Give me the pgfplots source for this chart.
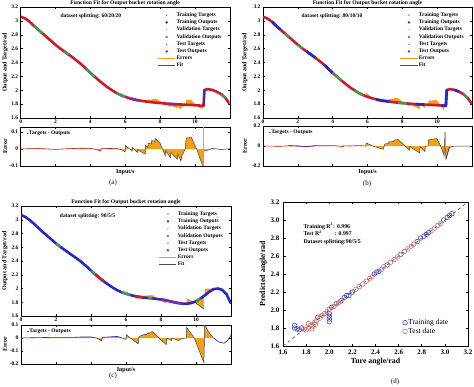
\documentclass[border=0pt]{standalone}
\usepackage{fontspec}
\setmainfont{Liberation Serif}
\usepackage{pgfplots}
\pgfplotsset{compat=1.18}
\usepackage{pgfplotstable}

\definecolor{eorange}{RGB}{245,160,20}
\definecolor{cred}{RGB}{205,25,40}
\definecolor{cblue}{RGB}{35,40,200}
\definecolor{cgreen}{RGB}{70,150,90}
\definecolor{cpurp}{RGB}{130,40,170}
\definecolor{dblue}{RGB}{70,70,185}
\definecolor{dred}{RGB}{205,110,110}
\newcommand{\fs}[1]{\fontsize{#1}{#1}\selectfont}

% fit curve, panels (a) and (b)
\pgfplotstableread{
x y
0 3.06
0.25 3.035
0.5 2.99
0.75 2.93
1.0 2.875
1.25 2.82
1.5 2.765
1.75 2.71
2.0 2.655
2.25 2.605
2.5 2.56
2.75 2.515
3.0 2.47
3.25 2.42
3.5 2.37
3.75 2.31
4.0 2.25
4.25 2.195
4.5 2.14
4.75 2.09
5.0 2.04
5.25 2.0
5.5 1.96
5.75 1.93
6.0 1.905
6.25 1.885
6.5 1.868
6.75 1.855
7.0 1.845
7.25 1.836
7.5 1.828
7.75 1.821
8.0 1.815
8.25 1.81
8.5 1.805
8.75 1.80
9.0 1.797
9.25 1.794
9.5 1.791
9.75 1.788
10.0 1.784
10.25 1.78
10.5 1.775
10.55 2.005
10.75 2.015
11.0 2.005
11.25 1.98
11.5 1.945
11.75 1.89
12.0 1.80
}\fitab

% fit curve, panel (c)
\pgfplotstableread{
x y
0 3.07
0.25 3.04
0.5 2.995
0.75 2.94
1.0 2.88
1.25 2.82
1.5 2.765
1.75 2.71
2.0 2.655
2.25 2.605
2.5 2.56
2.75 2.515
3.0 2.47
3.25 2.425
3.5 2.375
3.75 2.32
4.0 2.26
4.25 2.205
4.5 2.15
4.75 2.10
5.0 2.055
5.25 2.012
5.5 1.975
5.75 1.945
6.0 1.925
6.25 1.905
6.5 1.89
6.75 1.878
7.0 1.868
7.25 1.862
7.5 1.856
7.75 1.848
8.0 1.84
8.25 1.83
8.5 1.815
8.75 1.80
9.0 1.788
9.25 1.78
9.5 1.778
9.75 1.79
10.0 1.815
10.25 1.855
10.5 1.90
10.75 1.95
11.0 1.99
11.25 2.0
11.5 1.98
11.75 1.915
12.0 1.78
}\fitc

\pgfplotstableread{
x e
0 0.000
0.5 0.002
1 0.003
1.5 0.001
2 -0.002
2.5 0.001
3 0.003
3.5 0.005
4 0.004
4.3 -0.002
4.6 -0.012
4.62 0.002
5 0.003
5.5 0.004
5.9 -0.008
6.0 -0.018
6.01 0.02
6.2 0.005
6.4 -0.012
6.42 0.01
6.6 -0.01
6.7 -0.02
6.72 -0.005
7.15 -0.03
7.16 0.02
7.3 0.01
7.32 0.035
7.5 0.03
7.52 0.05
7.7 0.045
7.72 0.062
8.0 0.035
8.3 -0.04
8.32 -0.01
8.6 -0.05
8.62 -0.02
9.0 -0.06
9.02 -0.03
9.2 -0.07
9.25 -0.04
9.45 0.0
9.5 0.065
9.8 0.068
10.1 0.0
10.45 -0.1
10.5 0.13
10.53 -0.012
10.8 -0.005
11 0.004
11.5 -0.003
12 0.002
}\erra

\pgfplotstableread{
x e
0 0
1 -0.003
1.5 0.003
2 0.0
2.5 -0.006
3 0.003
3.5 0.002
4 0.004
4.5 -0.003
4.6 -0.01
4.62 0.002
5 0.0
5.5 0.004
5.9 0.0
5.92 0.03
6.3 0.0
6.9 -0.033
7.0 0.02
7.2 0.025
7.22 0.04
7.5 0.045
7.52 0.058
7.75 0.065
8.4 -0.04
8.42 -0.005
9.0 -0.07
9.02 -0.005
9.3 -0.055
9.32 0.0
9.48 0.0
9.5 0.06
9.98 0.075
10.2 0.0
10.4 -0.1
10.45 0.14
10.5 -0.13
10.7 -0.015
11 0.0
12 0.0
}\errb

\pgfplotstableread{
x e
0 0
1 0.003
2 0.005
3 0.005
3.5 0.008
4 0.008
4.3 0.0
4.6 -0.02
4.65 0.005
5 0.008
5.5 0.012
5.9 -0.005
6.0 -0.01
6.02 0.025
6.1 0.015
6.7 -0.045
6.72 0.0
6.8 0.015
7.1 0.03
7.12 0.025
7.3 0.04
7.32 0.035
7.5 0.05
8.0 -0.015
8.3 -0.05
8.32 0.0
8.6 -0.02
8.62 0.0
9.0 -0.02
9.1 -0.01
9.35 0.0
9.45 0.0
9.47 0.08
9.9 0.0
10.45 -0.19
10.5 0.1
10.7 0.05
11.0 0.0
11.3 -0.03
11.6 -0.04
11.8 -0.02
12 0.02
}\errc

\pgfplotstableread{
x y
1.70 1.80
1.70 1.83
1.72 1.79
1.74 1.78
1.76 1.80
1.90 1.92
2.00 1.87
2.00 1.90
2.00 1.93
2.00 1.96
2.02 2.03
2.06 2.07
2.10 2.10
2.13 2.14
2.15 2.16
2.17 2.16
2.20 2.20
2.39 2.40
2.41 2.42
2.43 2.43
2.50 2.50
2.62 2.62
2.76 2.76
2.79 2.80
2.82 2.82
2.84 2.84
2.86 2.86
2.99 3.00
3.02 3.03
3.04 3.05
3.06 3.07
}\dtrain

\pgfplotstableread{
x y
1.78 1.79
1.80 1.78
1.82 1.80
1.82 1.85
1.84 1.83
1.85 1.79
1.86 1.82
1.87 1.86
1.88 1.84
1.89 1.88
1.92 1.91
1.94 1.94
1.96 1.96
1.98 1.98
2.00 2.01
2.04 2.04
2.08 2.08
2.11 2.11
2.19 2.19
2.23 2.23
2.26 2.26
2.29 2.29
2.32 2.32
2.35 2.35
2.37 2.37
2.45 2.45
2.47 2.48
2.53 2.53
2.56 2.56
2.59 2.59
2.65 2.65
2.68 2.68
2.71 2.71
2.73 2.73
2.88 2.88
2.91 2.91
2.94 2.94
2.96 2.96
}\dtest

\pgfplotsset{
  base/.style={scale only axis, xmin=0, xmax=12, xtick={0,2,4,6,8,10},
    clip mode=individual,
    tick align=inside, major tick length=2pt,
    axis line style={line width=0.4pt}, tick style={line width=0.4pt, black},
    tick label style={font=\bfseries\fs{5.5}},
    /pgf/number format/assume math mode=true},
  mainax/.style={base, width=209pt, height=111pt, ymin=1.6, ymax=3.2,
    ytick={1.6,1.8,2,2.2,2.4,2.6,2.8,3,3.2},
    xticklabel style={yshift=1.2pt}, yticklabel style={xshift=1pt},
    legend cell align=left,
    legend style={draw=none, fill=none, font=\bfseries\fs{5.5}, at={(0.965,0.96)},
      anchor=north east, row sep=0.4pt, inner sep=0pt, nodes={inner sep=0.8pt}}},
  errax/.style={base, width=209pt, height=39pt, xticklabels={},
    yticklabel style={xshift=1pt},
    legend cell align=left,
    legend style={draw=none, fill=none, font=\bfseries\fs{5.5}, at={(0.03,0.93)},
      anchor=north west, inner sep=0pt, nodes={inner sep=0.8pt}}},
  curve/.style={line width=2.6pt, line join=round, forget plot},
}

\newcommand{\mainlegend}{%
  \addlegendimage{only marks, mark=*, mark size=0.35pt, cblue}\addlegendentry{Training Targets}
  \addlegendimage{only marks, mark=*, mark size=1pt, cblue}\addlegendentry{Training Outputs}
  \addlegendimage{only marks, mark=*, mark size=0.35pt, orange}\addlegendentry{Validation Targets}
  \addlegendimage{only marks, mark=*, mark size=1pt, cgreen}\addlegendentry{Validation Outputs}
  \addlegendimage{only marks, mark=*, mark size=0.35pt, cred}\addlegendentry{Test Targets}
  \addlegendimage{only marks, mark=*, mark size=1pt, cred}\addlegendentry{Test Outputs}
  \addlegendimage{eorange, line width=1pt}\addlegendentry{Errors}
  \addlegendimage{black!70, line width=1pt}\addlegendentry{Fit}}
\newcommand{\ttitle}{\node[font=\bfseries\fs{5.6}, anchor=south, inner sep=0pt, yshift=1.2pt] at (rel axis cs:0.5,1) {Function Fit for Output bucket rotation angle};}
\newcommand{\ylab}[2]{\node[rotate=90, font=\bfseries\fs{6}, inner sep=0pt] at ([xshift=#1]rel axis cs:0,0.5) {#2};}
\newcommand{\inlab}{\node[font=\bfseries\fs{6}, anchor=north, inner sep=0pt] at ([yshift=-3pt]rel axis cs:0.5,0) {Input/s};}

\begin{document}
\begin{tikzpicture}
\useasboundingbox (0,0) rectangle (474pt,386pt);

% ================= (a) =================
\begin{axis}[mainax, at={(20.7pt,379pt)}, anchor=north west]
\mainlegend
\addplot[fill=eorange, draw=none, forget plot] coordinates {(7.16,1.838)(7.16,1.858)(7.3,1.846)(7.32,1.868)(7.5,1.858)(7.52,1.878)(7.7,1.867)(7.72,1.883)(8.0,1.85)(8.15,1.812)(8.0,1.815)(7.5,1.828)};
\addplot[fill=eorange, draw=none, forget plot] coordinates {(8.15,1.812)(8.3,1.77)(8.32,1.80)(8.6,1.752)(8.62,1.782)(9.0,1.737)(9.02,1.767)(9.2,1.724)(9.25,1.754)(9.45,1.792)(9.0,1.797)(8.5,1.805)};
\addplot[fill=eorange, draw=none, forget plot] coordinates {(9.5,1.791)(9.5,1.856)(9.8,1.856)(10.1,1.782)(9.8,1.787)};
\addplot[fill=eorange, draw=none, forget plot] coordinates {(10.1,1.782)(10.45,1.72)(10.45,1.776)};
\addplot[curve, cred] table {\fitab};
\addplot[curve, cgreen, restrict x to domain=0.75:1.25] table {\fitab};
\addplot[curve, cgreen, restrict x to domain=2.5:2.9] table {\fitab};
\addplot[curve, cgreen, restrict x to domain=3.7:4.3] table {\fitab};
\addplot[curve, cgreen, restrict x to domain=5.5:6.0] table {\fitab};
\addplot[curve, cgreen, restrict x to domain=11.4:11.8] table {\fitab};
\addplot[curve, cpurp, restrict x to domain=6.25:6.75] table {\fitab};
\addplot[curve, cpurp, restrict x to domain=8.5:9.0] table {\fitab};
\addplot[curve, cblue, line width=1.4pt, restrict x to domain=10.45:10.6] table {\fitab};
\ttitle
\ylab{-15.5pt}{Output and Target/rad}
\node[font=\bfseries\fs{5.5}, inner sep=0pt] at (rel axis cs:0.336,0.92) {dataset splitting: 60/20/20};
\end{axis}
\begin{axis}[errax, at={(20.7pt,259pt)}, anchor=north west, ymin=-0.1, ymax=0.13,
  ytick={-0.1,0,0.1}]
\addlegendimage{only marks, mark=*, mark size=0.5pt, cred}\addlegendentry{Targets - Outputs}
\addplot[fill=eorange, draw=none, forget plot] table {\erra} \closedcycle;
\addplot[cred, line width=0.6pt, forget plot, restrict x to domain=0:6.0] table {\erra};
\addplot[black!75, line width=0.5pt, forget plot, restrict x to domain=6.0:10.46] table {\erra};
\addplot[black!75, line width=0.5pt, forget plot, restrict x to domain=10.52:12] table {\erra};
\addplot[eorange, line width=1pt, forget plot] coordinates {(10.48,-0.1)(10.48,0.13)};
\ylab{-15.5pt}{Error}
\inlab
\end{axis}
\node[font=\fs{7}] at (113pt,203pt) {(a)};

% ================= (b) =================
\begin{axis}[mainax, at={(263pt,379pt)}, anchor=north west]
\mainlegend
\addplot[fill=eorange, draw=none, forget plot] coordinates {(5.92,1.935)(5.92,1.965)(6.3,1.89)};
\addplot[fill=eorange, draw=none, forget plot] coordinates {(6.3,1.89)(6.9,1.818)(6.9,1.851)};
\addplot[fill=eorange, draw=none, forget plot] coordinates {(7.0,1.845)(7.0,1.865)(7.2,1.862)(7.22,1.878)(7.5,1.873)(7.52,1.886)(7.75,1.886)(8.1,1.813)(7.75,1.821)(7.5,1.828)};
\addplot[fill=eorange, draw=none, forget plot] coordinates {(8.1,1.813)(8.4,1.766)(8.42,1.80)(9.0,1.727)(9.02,1.792)(9.3,1.739)(9.32,1.793)(9.0,1.797)(8.5,1.805)};
\addplot[fill=eorange, draw=none, forget plot] coordinates {(9.5,1.791)(9.5,1.851)(9.98,1.859)(10.2,1.78)(9.98,1.784)};
\addplot[fill=eorange, draw=none, forget plot] coordinates {(10.2,1.78)(10.4,1.70)(10.4,1.776)};
\addplot[curve, cred] table {\fitab};
\addplot[curve, cblue, restrict x to domain=0.5:1.0] table {\fitab};
\addplot[curve, cblue, restrict x to domain=2.5:3.0] table {\fitab};
\addplot[curve, cblue, restrict x to domain=3.5:4.0] table {\fitab};
\addplot[curve, cblue, restrict x to domain=6.5:7.25] table {\fitab};
\addplot[curve, cblue, restrict x to domain=8.75:9.25] table {\fitab};
\addplot[curve, cblue, restrict x to domain=10.25:10.6] table {\fitab};
\addplot[curve, cblue, restrict x to domain=11.0:11.25] table {\fitab};
\addplot[curve, cgreen, restrict x to domain=1.25:1.5] table {\fitab};
\addplot[curve, cgreen, restrict x to domain=2.0:2.25] table {\fitab};
\addplot[curve, cgreen, restrict x to domain=4.0:4.5] table {\fitab};
\addplot[curve, cgreen, restrict x to domain=5.25:5.75] table {\fitab};
\addplot[curve, cgreen, restrict x to domain=7.75:8.25] table {\fitab};
\addplot[curve, cgreen, restrict x to domain=11.5:11.75] table {\fitab};
\ttitle
\ylab{-18pt}{Output and Target/rad}
\node[font=\bfseries\fs{5.5}, inner sep=0pt] at (rel axis cs:0.33,0.92) {dataset splitting: 80/10/10};
\end{axis}
\begin{axis}[errax, at={(263pt,260pt)}, anchor=north west, height=40pt, ymin=-0.2, ymax=0.2,
  ytick={-0.2,0,0.2}]
\addlegendimage{only marks, mark=*, mark size=0.5pt, cred}\addlegendentry{Targets - Outputs}
\addplot[fill=eorange, draw=none, forget plot] table {\errb} \closedcycle;
\addplot[cred, line width=0.6pt, forget plot, restrict x to domain=0:5.9] table {\errb};
\addplot[cblue, line width=0.6pt, forget plot, restrict x to domain=1.5:3] table {\errb};
\addplot[black!75, line width=0.5pt, forget plot, restrict x to domain=5.9:12] table {\errb};
\addplot[eorange, line width=1pt, forget plot] coordinates {(10.45,-0.02)(10.45,0.14)};
\addplot[cblue, line width=0.6pt, forget plot, restrict x to domain=10.46:10.8] table {\errb};
\ylab{-18pt}{Error}
\inlab
\end{axis}
\node[font=\fs{7}] at (367pt,202pt) {(b)};

% ================= (c) =================
\begin{axis}[mainax, at={(21pt,180pt)}, anchor=north west, width=210pt, height=110pt]
\mainlegend
\addplot[fill=eorange, draw=none, forget plot] coordinates {(6.8,1.877)(6.8,1.892)(7.1,1.895)(7.3,1.90)(7.5,1.905)(8.0,1.825)(8.3,1.78)(8.3,1.83)(8.0,1.84)(7.5,1.856)(7.0,1.868)};
\addplot[fill=eorange, draw=none, forget plot] coordinates {(6.02,1.923)(6.02,1.948)(6.7,1.84)(6.7,1.882)};
\addplot[fill=eorange, draw=none, forget plot] coordinates {(9.47,1.778)(9.47,1.858)(9.9,1.805)};
\addplot[fill=eorange, draw=none, forget plot] coordinates {(9.9,1.805)(10.0,1.815)(10.25,1.855)(10.45,1.89)(10.45,1.70)};
\addplot[fill=eorange, draw=none, forget plot] coordinates {(10.5,1.90)(10.5,2.0)(11.0,2.0)(11.0,1.99)(10.75,1.95)};
\addplot[black!80, line width=0.5pt, forget plot] coordinates {(9.9,1.805)(10.45,1.70)};
\addplot[curve, cblue] table {\fitc};
\addplot[curve, cgreen, restrict x to domain=2.0:2.25] table {\fitc};
\addplot[curve, cgreen, restrict x to domain=4.0:4.25] table {\fitc};
\addplot[curve, cgreen, restrict x to domain=5.75:6.25] table {\fitc};
\addplot[curve, cgreen, restrict x to domain=7.25:7.5] table {\fitc};
\addplot[curve, cgreen, restrict x to domain=10.0:10.25] table {\fitc};
\addplot[curve, cred, restrict x to domain=4.25:4.75] table {\fitc};
\addplot[curve, cred, restrict x to domain=6.5:7.0] table {\fitc};
\addplot[curve, cpurp, restrict x to domain=8.0:9.25] table {\fitc};
\ttitle
\ylab{-16pt}{Output and Target/rad}
\node[font=\bfseries\fs{5.5}, inner sep=0pt] at (rel axis cs:0.317,0.91) {dataset splitting: 90/5/5};
\end{axis}
\begin{axis}[errax, at={(21pt,61pt)}, anchor=north west, width=210pt, ymin=-0.2, ymax=0.1,
  ytick={-0.2,-0.1,0,0.1}]
\addlegendimage{only marks, mark=*, mark size=0.5pt, cblue}\addlegendentry{Targets - Outputs}
\addplot[fill=eorange, draw=none, forget plot, restrict x to domain=0:11] table {\errc} \closedcycle;
\addplot[cblue, line width=0.6pt, forget plot, restrict x to domain=0:6.0] table {\errc};
\addplot[black!75, line width=0.5pt, forget plot, restrict x to domain=6.0:11.0] table {\errc};
\addplot[cblue!70!black, line width=0.6pt, forget plot, restrict x to domain=11.0:12] table {\errc};
\ylab{-16pt}{Error}
\inlab
\end{axis}
\node[font=\fs{7}] at (113pt,10pt) {(c)};

% ================= (d) =================
\begin{axis}[scale only axis, at={(283pt,184pt)}, anchor=north west, width=185pt, height=144pt,
  xmin=1.6, xmax=3.2, ymin=1.6, ymax=3.2,
  xtick={1.6,1.8,2.0,2.2,2.4,2.6,2.8,3.0,3.2},
  ytick={1.6,1.8,2.0,2.2,2.4,2.6,2.8,3.0,3.2},
  tick align=inside, major tick length=2.5pt,
  axis line style={line width=0.7pt}, tick style={line width=0.6pt, black},
  /pgf/number format/assume math mode=true,
  tick label style={font=\bfseries\fs{7}, /pgf/number format/.cd, fixed, fixed zerofill, precision=1},
  xlabel={Ture angle/rad}, ylabel={Predicted angle/rad},
  label style={font=\bfseries\fs{7.8}},
  xlabel style={yshift=3pt}, ylabel style={yshift=-3pt},
  legend cell align=left,
  legend style={draw=none, fill=none, font=\fs{7.5}, at={(0.9,0.07)}, anchor=south east,
    row sep=0pt, inner sep=0pt, nodes={inner sep=1pt}}]
\addplot[dashed, black!80, line width=0.5pt, forget plot] coordinates {(1.6,1.6)(3.2,3.2)};
\addplot[only marks, mark=o, mark size=2.3pt, dblue, mark options={line width=0.6pt}] table {\dtrain};
\addlegendentry{Training date}
\addplot[only marks, mark=o, mark size=2.3pt, dred, mark options={line width=0.6pt}] table {\dtest};
\addlegendentry{Test date}
\node[anchor=north west, align=left, inner sep=0pt, font=\bfseries\fontsize{5.8}{7.6}\selectfont]
  at (rel axis cs:0.11,0.855) {Training R\textsuperscript{2}: 0.996\\Test R\textsuperscript{2}\hspace{13pt}: 0.997\\Dataset splitting:90/5/5};
\end{axis}
\node[font=\fs{7}] at (395pt,4pt) {(d)};
\end{tikzpicture}
\end{document}
